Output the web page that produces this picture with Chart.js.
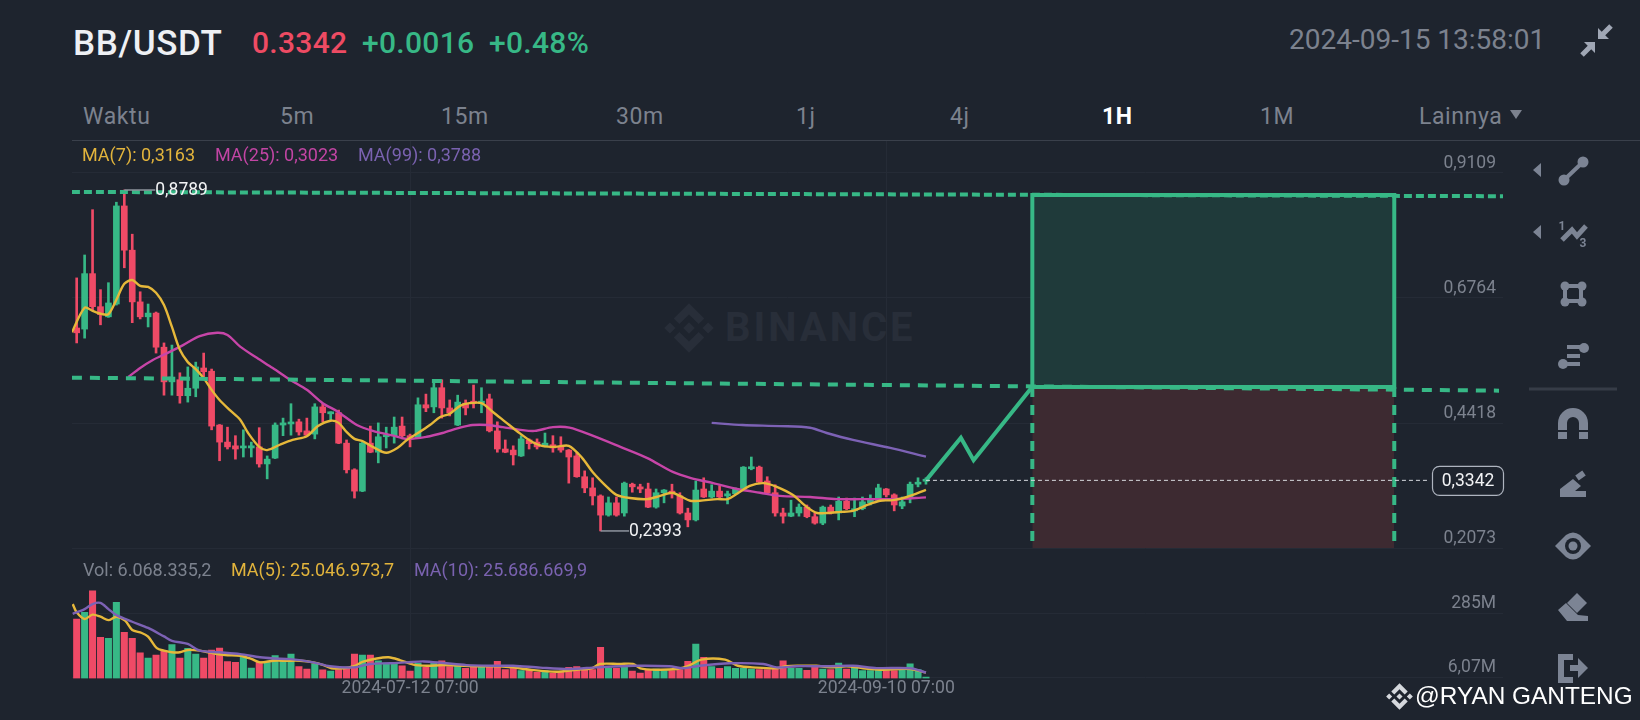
<!DOCTYPE html>
<html>
<head>
<meta charset="utf-8">
<title>BB/USDT</title>
<script src="https://cdn.jsdelivr.net/npm/chart.js@4/dist/chart.umd.min.js"></script>
<style>
html, body { margin: 0; width: 1640px; height: 720px; background: #1e242e; overflow: hidden; font-family: Roboto, sans-serif; }
canvas { position: absolute; left: 0; }
.t { position: absolute; white-space: nowrap; line-height: 1; color: #7c828e; }
.pair { font-size: 35px; font-weight: 500; color: #eef0f4; letter-spacing: .6px; }
.quote { font-size: 30px; font-weight: 500; letter-spacing: .3px; }
.tab { font-size: 23px; letter-spacing: .6px; }
.legend { font-size: 18px; }
.yellow { color: #e2b43c; }
.pink { color: #c245a4; }
.purple { color: #7a62b0; }
.rule { position: absolute; left: 72px; right: 0; top: 140px; height: 1px; background: #3a404b; }
#mark { position: absolute; left: 725px; top: 308px; font-size: 40px; font-weight: 700; letter-spacing: 3px; color: #282e39; line-height: 1; }
#credit { position: absolute; left: 1415px; top: 684px; font: 24.4px "Liberation Sans", sans-serif; color: #fff; line-height: 1; white-space: nowrap; }
svg { position: absolute; left: 0; top: 0; }
</style>
</head>
<body>

<svg width="1640" height="720" viewBox="0 0 1640 720">
  <defs>
    <symbol id="logo" viewBox="0 0 126 126">
      <path d="M38.73 53.2 63 28.94l24.28 24.28 14.12-14.12L63 .7 24.61 39.09zM.7 63l14.12-14.12L28.94 63 14.82 77.12zM38.73 72.8 63 97.06l24.28-24.28 14.13 14.12L63 125.3 24.6 86.91zM97.06 63l14.12-14.12L125.3 63l-14.12 14.12zM77.32 63 63 48.67 48.68 63 63 77.32z"/>
    </symbol>
  </defs>
  <use href="#logo" x="664" y="303" width="50" height="50" fill="#282e39"/>
</svg>
<div id="mark">BINANCE</div>

<canvas id="priceChart" width="1640" height="408" style="top:141px"></canvas>
<canvas id="volumeChart" width="1640" height="172" style="top:548px"></canvas>

<div class="rule"></div>

<div class="t pair" style="left:73px;top:26px">BB/USDT</div>
<div class="t quote" style="left:252px;top:28px;color:#ee4b63">0.3342</div>
<div class="t quote" style="left:362px;top:28px;color:#37b886">+0.0016</div>
<div class="t quote" style="left:489px;top:28px;color:#37b886">+0.48%</div>
<div class="t" style="left:1289px;top:26px;font-size:28px">2024-09-15 13:58:01</div>

<div class="t tab" style="left:83px;top:105px">Waktu</div>
<div class="t tab" style="left:280px;top:105px">5m</div>
<div class="t tab" style="left:441px;top:105px">15m</div>
<div class="t tab" style="left:616px;top:105px">30m</div>
<div class="t tab" style="left:796px;top:105px">1j</div>
<div class="t tab" style="left:950px;top:105px">4j</div>
<div class="t tab" style="left:1102px;top:105px;color:#fff;font-weight:700">1H</div>
<div class="t tab" style="left:1260px;top:105px">1M</div>
<div class="t tab" style="left:1419px;top:105px">Lainnya</div>

<div class="t legend yellow" style="left:82px;top:146px">MA(7): 0,3163</div>
<div class="t legend pink" style="left:215px;top:146px">MA(25): 0,3023</div>
<div class="t legend purple" style="left:358px;top:146px">MA(99): 0,3788</div>

<div class="t legend" style="left:83px;top:561px">Vol: 6.068.335,2</div>
<div class="t legend yellow" style="left:231px;top:561px">MA(5): 25.046.973,7</div>
<div class="t legend purple" style="left:414px;top:561px">MA(10): 25.686.669,9</div>

<div id="credit">@RYAN GANTENG</div>

<!-- toolbar icons down the right edge -->
<svg width="1640" height="720" viewBox="0 0 1640 720">
  <g fill="#a0a7b5" stroke="#a0a7b5">
    <path d="M1598 39V28L1609 39zM1595 42V53L1584 42z" stroke="none"/>
    <path d="M1602 35 1611 26M1591 46 1582 55" stroke-width="5" fill="none"/>
  </g>
  <path d="M1510 110H1522L1516 119z" fill="#7c828e"/>
  <g fill="#7c8494" stroke="none">
    <path d="M1533 170 1541 163V177zM1533 232 1541 225V239z"/>
    <circle cx="1583" cy="162" r="5.5"/><circle cx="1564" cy="180" r="5.5"/>
    <path d="M1564 180 1583 162" stroke="#7c8494" stroke-width="4"/>
    <path d="M1562 240 1572 230 1577 236 1586 226" fill="none" stroke="#7c8494" stroke-width="5"/>
    <text x="1562" y="230" font-size="12" font-weight="700" text-anchor="middle" font-family="Roboto">1</text>
    <text x="1583" y="247" font-size="12" font-weight="700" text-anchor="middle" font-family="Roboto">3</text>
    <rect x="1565" y="286" width="16" height="15" fill="none" stroke="#7c8494" stroke-width="4"/>
    <circle cx="1565" cy="286" r="4.5"/><circle cx="1582" cy="286" r="4.5"/><circle cx="1565" cy="302" r="4.5"/><circle cx="1582" cy="302" r="4.5"/>
    <path d="M1567 347H1582M1567 356H1580M1565 364H1580" stroke="#7c8494" stroke-width="4"/>
    <circle cx="1584" cy="348" r="5"/><circle cx="1563" cy="364" r="5"/>
    <path d="M1529 389H1617" stroke="#363c47" stroke-width="3"/>
    <path d="M1562.5 439V423A10.5 10.5 0 0 1 1583.5 423V439" fill="none" stroke="#7c8494" stroke-width="9"/>
    <path d="M1556 431H1590" stroke="#1e242e" stroke-width="2"/>
    <path d="M1560 497V489L1573 479 1581 486 1575 491H1586V497z"/>
    <path d="M1577 478 1584 473" stroke="#7c8494" stroke-width="6"/>
    <path d="M1555 546 1566 535Q1573 530 1580 535L1591 546 1580 557Q1573 562 1566 557z"/>
    <circle cx="1573" cy="546" r="8" fill="#1e242e"/><circle cx="1573" cy="546" r="4.5"/>
    <path d="M1577 593 1587 603 1577 613 1567 603z"/>
    <path d="M1558 610 1566 603 1578 615 1588 616V621H1567z"/>
    <path d="M1573 657H1561V680H1573" fill="none" stroke="#7c8494" stroke-width="6"/>
    <path d="M1570 668H1580" stroke="#7c8494" stroke-width="6"/>
    <path d="M1578 658 1588 668 1578 678z"/>
  </g>
  <use href="#logo" x="1386" y="683" width="27" height="27" fill="#d5d8dd"/>
</svg>

<script>
const GREEN = '#37b886';
const RED = '#ef4a66';
const YELLOW = '#e6b83a';
const PINK = '#c745a8';
const PURPLE = '#7d62b5';
const GRID = '#252b36';
const TICK_TEXT = '#7c828e';

// daily candles, index 0 is the oldest
const opens = [.620,.618,.722,.660,.641,.665,.849,.766,.669,.641,.648,.584,.519,.523,.493,.507,.545,.539,.438,.406,.399,.395,.395,.397,.365,.376,.438,.440,.444,.427,.421,.472,.459,.461,.404,.354,.314,.404,.387,.416,.418,.436,.418,.414,.476,.472,.508,.470,.438,.479,.481,.479,.487,.427,.393,.391,.380,.410,.406,.399,.401,.397,.391,.380,.341,.320,.305,.269,.292,.273,.327,.322,.318,.284,.311,.314,.305,.273,.260,.318,.303,.314,.305,.309,.318,.356,.359,.333,.311,.273,.267,.273,.284,.266,.254,.284,.273,.295,.277,.281,.292,.297,.318,.307,.286,.301,.327,.3326];
const highs = [.714,.757,.842,.692,.705,.856,.8789,.796,.688,.665,.650,.592,.588,.536,.547,.556,.573,.543,.439,.434,.418,.429,.406,.433,.380,.442,.451,.478,.449,.451,.478,.478,.463,.466,.410,.356,.406,.436,.442,.434,.453,.453,.421,.489,.496,.519,.523,.485,.494,.485,.513,.508,.496,.444,.410,.399,.418,.412,.412,.423,.418,.416,.392,.386,.352,.339,.307,.303,.303,.331,.329,.327,.329,.318,.317,.327,.311,.282,.333,.339,.326,.324,.314,.320,.360,.378,.361,.341,.326,.282,.297,.290,.288,.273,.286,.288,.303,.301,.301,.303,.307,.327,.319,.309,.303,.331,.339,.339];
const lows = [.592,.601,.654,.626,.640,.663,.733,.630,.637,.622,.573,.494,.494,.479,.481,.491,.523,.429,.371,.393,.374,.378,.378,.359,.337,.375,.418,.419,.419,.418,.412,.444,.448,.403,.348,.301,.313,.386,.367,.395,.404,.412,.397,.413,.463,.461,.451,.455,.437,.457,.470,.461,.425,.387,.386,.363,.379,.393,.393,.397,.387,.387,.329,.340,.311,.288,.2393,.267,.267,.267,.312,.311,.283,.282,.292,.301,.271,.247,.258,.302,.301,.299,.290,.307,.317,.354,.330,.309,.267,.254,.266,.267,.264,.252,.251,.271,.260,.279,.266,.279,.288,.295,.303,.277,.281,.292,.322,.327];
const closes = [.611,.722,.660,.645,.667,.849,.766,.669,.641,.648,.584,.519,.528,.493,.507,.547,.538,.436,.406,.397,.393,.397,.399,.365,.374,.438,.442,.442,.425,.419,.472,.461,.461,.404,.354,.314,.404,.387,.416,.418,.434,.418,.412,.476,.470,.508,.470,.461,.481,.470,.479,.481,.427,.393,.387,.382,.412,.403,.397,.404,.395,.391,.378,.341,.320,.305,.269,.292,.269,.329,.322,.318,.284,.311,.316,.309,.273,.260,.316,.303,.314,.303,.309,.318,.359,.359,.331,.311,.273,.267,.273,.284,.266,.254,.284,.273,.295,.281,.281,.294,.299,.320,.307,.288,.294,.327,.329,.3342];

// volume per candle, in millions
const volumes = [259,288,382,179,175,332,201,175,111,89,102,121,147,89,131,106,89,124,132,73,70,99,45,73,70,99,85,106,51,41,63,37,32,38,44,106,102,102,77,67,70,55,32,67,48,70,77,51,58,44,55,53,53,74,38,51,34,38,26,34,23,26,48,51,38,38,135,45,44,53,32,23,38,41,34,34,38,74,150,92,51,44,51,44,44,41,38,38,41,77,44,44,35,48,41,38,67,41,48,34,34,38,34,34,38,63,38,6.07];

// moving averages, each with the candle positions it was read at
const ma7Idx = [-.6,1,2,3.2,4,5,6,7,8,9,10,11,12,13,14,15,16,17,18,19.3,20.6,21.6,23,24,25.6,27.2,29,30.4,32,33,34,35,36,37.3,39,40.4,41.6,43,44.5,45.8,47,48.3,49.5,51,52.4,54,55.6,57.4,58.6,60.3,62,63.7,65,66.8,68,69.7,71.9,73.5,75,76,77.3,78.5,80.7,82,83.2,84.8,86.5,88.2,90.2,92,93.3,94.5,96.2,97.8,99.6,101.2,102.8,104.6,107];
const ma7Vals = [.612,.658,.652,.646,.646,.673,.703,.710,.699,.697,.686,.663,.622,.579,.556,.543,.526,.504,.485,.466,.448,.423,.397,.391,.401,.410,.417,.436,.446,.442,.425,.412,.408,.397,.386,.395,.410,.423,.438,.453,.459,.474,.479,.479,.463,.444,.425,.406,.399,.397,.399,.376,.350,.322,.307,.301,.299,.305,.311,.305,.296,.296,.299,.299,.309,.324,.329,.322,.307,.284,.273,.273,.275,.277,.288,.296,.297,.303,.3163];
const ma25Idx = [6.5,8,9.6,11.4,13.4,15.5,17.7,19,20.6,22.7,24.7,26.9,29,31,32.8,35.3,37.3,39.9,41.6,44.1,46.1,48.3,49.9,51.8,53.7,55.9,57.7,60,62.1,65,68.5,71.9,75.1,77.3,80.2,83.2,86.1,88.6,92.4,95.8,98.7,102.8,107];
const ma25Vals = [.528,.545,.560,.573,.588,.605,.611,.607,.585,.564,.545,.523,.504,.479,.464,.438,.427,.418,.412,.416,.423,.433,.438,.438,.434,.429,.427,.434,.433,.418,.397,.376,.350,.339,.329,.318,.311,.305,.303,.299,.299,.299,.3023];
const ma99Idx = [80,83.9,88.6,92.4,94.5,97.8,102.5,107];
const ma99Vals = [.442,.438,.436,.433,.423,.410,.395,.3788];

const volMa5Idx = [-.5,0,1,2,3,4,5,6.1,7,8.2,9,10.1,11,12,13,14,15.5,17,18.7,20.6,22,23.1,24.8,26.5,28.1,29.8,31.1,32.1,33.6,34.9,36.1,37.8,39.3,40.7,42.4,44.1,46.2,50.8,53.3,55,57.1,60.4,63,64.9,65.9,68.4,70.1,71,73,75.6,77,78.7,81.7,83.3,85.6,88.2,89.4,91.1,93.2,94.9,97,99.1,101.2,105,107];
const volMa5Vals = [324,288,259,278,269,254,269,252,211,198,182,132,121,114,114,124,121,111,102,99,85,70,77,77,77,70,58,44,44,53,73,87,92,80,60,55,58,53,53,48,38,29,38,44,63,63,63,44,38,41,53,82,82,55,47,44,53,55,55,48,53,44,38,41,25.05];
const volMa10Idx = [-.5,1,2,3,4,5,7,9,11,12,14,15.5,18,20.6,23.1,24.8,26.9,29.8,31.9,34.9,37,39.5,41.6,43.7,46.2,49.1,52.5,55,58.4,62.1,65.5,70.1,74.7,76.4,78.5,82.3,86.5,88.2,90.7,94.5,97.8,100.8,105,107];
const volMa10Vals = [281,302,324,329,302,276,247,220,183,164,150,121,114,106,92,87,84,70,53,48,63,66,70,74,67,58,55,55,47,41,48,55,53,44,55,66,63,48,53,53,55,45,44,25.69];

// hand drawn levels and the projected position
const upperLevelIdx = [-.6, 179.7];
const upperLevelVals = [.8753, .8673];
const lowerLevelIdx = [-.6, 179.2];
const lowerLevelVals = [.5269, .5025];
const pathIdx = [107, 111.4, 113, 120.3];
const pathVals = [.3342, .414, .372, .508];
const boxIdx = [120.4, 166];
const boxTop = .8696;
const boxEntry = .5094;
const boxStop = .2073;

const lastClose = closes[closes.length - 1];
const priceLineEnd = 170.5;
const highLabelIdx = 9.9;
const lowLabelIdx = 69.6;

const priceTicks = [.2073, .4418, .6764, .9109];
const volumeTicks = [6.07, 285];
const volumeTickLabels = ['6,07M', '285M'];
const dateTickIdx = [42, 102];
const dateTickLabels = ['2024-07-12 07:00', '2024-09-10 07:00'];

const X_MIN = -.59;
const X_MAX = 179.7;

const pts = (xs, ys) => xs.map((x, i) => ({ x, y: ys[i] }));
const candleColor = (i) => closes[i] >= opens[i] ? GREEN : RED;
const allColors = opens.map((_, i) => candleColor(i));
const commaFixed = (v) => v.toFixed(4).replace('.', ',');

function lineSet(data, color, width, order, extra) {
    return Object.assign({
        type: 'line', data, borderColor: color, borderWidth: width, order,
        pointRadius: 0, tension: 0, fill: false
    }, extra || {});
}

function xScale(showLabels) {
    return {
        type: 'linear', min: X_MIN, max: X_MAX, offset: false,
        grid: { color: GRID, lineWidth: 1, drawTicks: false, offset: false },
        border: { display: false },
        afterBuildTicks: (s) => { s.ticks = dateTickIdx.map(value => ({ value })); },
        afterFit: (s) => { s.height = showLabels ? 41.6 : 0; s.paddingLeft = 0; s.paddingRight = 0; },
        ticks: {
            display: showLabels, autoSkip: false, maxRotation: 0, padding: 0,
            color: TICK_TEXT, font: { family: 'Roboto', size: 17.6 },
            callback: (v) => dateTickLabels[dateTickIdx.indexOf(v)]
        }
    };
}

function yScale(min, max, tickValues, format) {
    return {
        type: 'linear', position: 'right', min, max,
        grid: { color: GRID, lineWidth: 1, drawTicks: false },
        border: { display: false },
        afterBuildTicks: (s) => { s.ticks = tickValues.map(value => ({ value })); },
        afterFit: (s) => { s.width = 0; s.paddingTop = 0; s.paddingBottom = 0; },
        ticks: {
            mirror: true, padding: -7, labelOffset: -9, autoSkip: false,
            color: TICK_TEXT, font: { family: 'Roboto', size: 17.5 },
            callback: format
        }
    };
}

// text that sits on the price pane: extreme labels and the last price tag
const priceTextPlugin = {
    id: 'priceText',
    afterDatasetsDraw(chart) {
        const { ctx, scales: { x, y } } = chart;
        ctx.save();
        ctx.font = '17.5px Roboto';
        ctx.fillStyle = '#f2f3f5';
        ctx.textBaseline = 'middle';
        ctx.textAlign = 'left';
        ctx.fillText(commaFixed(Math.max(...highs)), x.getPixelForValue(highLabelIdx), y.getPixelForValue(Math.max(...highs)) + 1);
        ctx.fillText(commaFixed(Math.min(...lows)), x.getPixelForValue(lowLabelIdx), y.getPixelForValue(Math.min(...lows)) + 1);

        const py = y.getPixelForValue(lastClose);
        ctx.beginPath();
        ctx.roundRect(1432.5, py - 14, 71, 29, 7);
        ctx.fillStyle = '#1e242e';
        ctx.fill();
        ctx.strokeStyle = '#aeb4bf';
        ctx.lineWidth = 1.2;
        ctx.stroke();
        ctx.fillStyle = '#f2f3f5';
        ctx.textAlign = 'center';
        ctx.fillText(commaFixed(lastClose), 1468, py + 1);
        ctx.restore();
    }
};

function initPriceChart() {
    const wicks = {
        type: 'bar', grouped: false, barThickness: 2, order: 6,
        data: opens.map((_, i) => ({ x: i, y: [lows[i], highs[i]] })),
        backgroundColor: allColors
    };
    const bodies = {
        type: 'bar', grouped: false, barThickness: 6, minBarLength: 2, order: 5,
        data: opens.map((_, i) => ({ x: i, y: [opens[i], closes[i]] })),
        backgroundColor: allColors
    };
    const targetArea = lineSet(pts(boxIdx, [boxTop, boxTop]), 'transparent', 0, 12, {
        fill: { value: boxEntry }, backgroundColor: '#1f3a3a'
    });
    const stopArea = lineSet(pts(boxIdx, [boxEntry, boxEntry]), 'transparent', 0, 12, {
        fill: { value: boxStop }, backgroundColor: '#3d2a31'
    });
    const targetOutline = lineSet([
        { x: boxIdx[0], y: boxEntry }, { x: boxIdx[0], y: boxTop }, { x: boxIdx[1], y: boxTop },
        { x: boxIdx[1], y: boxEntry }, { x: boxIdx[0], y: boxEntry }
    ], GREEN, 4, 2);
    const stopLeft = lineSet(pts([boxIdx[0], boxIdx[0]], [boxEntry, boxStop]), GREEN, 4, 2, { borderDash: [10, 8] });
    const stopRight = lineSet(pts([boxIdx[1], boxIdx[1]], [boxEntry, boxStop]), GREEN, 4, 2, { borderDash: [10, 8] });

    new Chart(document.getElementById('priceChart').getContext('2d'), {
        data: {
            datasets: [
                targetArea, stopArea, wicks, bodies,
                lineSet(pts(ma99Idx, ma99Vals), PURPLE, 2.4, 4, { tension: .3 }),
                lineSet(pts(ma25Idx, ma25Vals), PINK, 2.4, 4, { tension: .3 }),
                lineSet(pts(ma7Idx, ma7Vals), YELLOW, 2.4, 3, { tension: .3 }),
                lineSet(pts(upperLevelIdx, upperLevelVals), GREEN, 4, 2, { borderDash: [8, 4] }),
                lineSet(pts(lowerLevelIdx, lowerLevelVals), GREEN, 4, 2, { borderDash: [10, 8] }),
                targetOutline, stopLeft, stopRight,
                lineSet(pts(pathIdx, pathVals), GREEN, 4, 2),
                lineSet(pts([107, priceLineEnd], [lastClose, lastClose]), '#d8dbe0', 1, 1, { borderDash: [4, 3] }),
                lineSet(pts([6, highLabelIdx], [Math.max(...highs), Math.max(...highs)]), '#8f949e', 1.5, 1),
                lineSet(pts([66, lowLabelIdx], [Math.min(...lows), Math.min(...lows)]), '#8f949e', 1.5, 1)
            ]
        },
        plugins: [priceTextPlugin],
        options: {
            responsive: false,
            animation: false,
            events: [],
            layout: { padding: { left: 72, right: 137, top: 0, bottom: 1 } },
            plugins: { legend: { display: false }, tooltip: { enabled: false } },
            scales: {
                x: xScale(false),
                y: yScale(priceTicks[0], priceTicks[0] + 407 * .001876, priceTicks, commaFixed)
            }
        }
    });
}

function initVolumeChart() {
    new Chart(document.getElementById('volumeChart').getContext('2d'), {
        data: {
            datasets: [
                {
                    type: 'bar', grouped: false, barThickness: 6.4, order: 3,
                    data: pts(volumes.map((_, i) => i), volumes),
                    backgroundColor: allColors
                },
                lineSet(pts(volMa5Idx, volMa5Vals), YELLOW, 2.4, 2, { tension: .3 }),
                lineSet(pts(volMa10Idx, volMa10Vals), PURPLE, 2.4, 1, { tension: .3 })
            ]
        },
        options: {
            responsive: false,
            animation: false,
            events: [],
            layout: { padding: { left: 72, right: 137, top: 0, bottom: 0 } },
            plugins: { legend: { display: false }, tooltip: { enabled: false } },
            scales: {
                x: xScale(true),
                y: yScale(0, 568.5, volumeTicks, (v) => volumeTickLabels[volumeTicks.indexOf(v)])
            }
        }
    });
}

initPriceChart();
initVolumeChart();
</script>
</body>
</html>
